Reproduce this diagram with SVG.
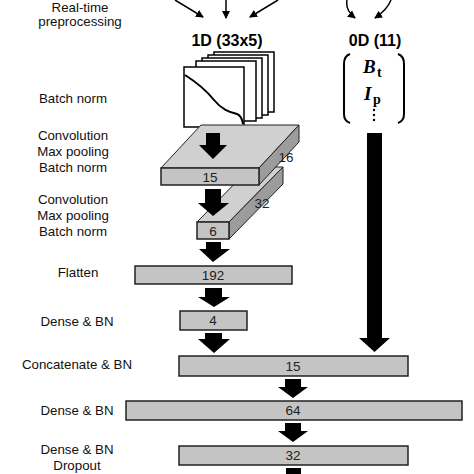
<svg xmlns="http://www.w3.org/2000/svg" width="474" height="474" viewBox="0 0 474 474">
<defs>
<style>
.lbl{font-family:"Liberation Sans",Arial,sans-serif;font-size:13.3px;fill:#111;text-anchor:middle}
.num{font-family:"Liberation Sans",Arial,sans-serif;font-size:13.5px;fill:#222;text-anchor:middle}
.hd{font-family:"Liberation Sans",Arial,sans-serif;font-size:16px;font-weight:bold;fill:#000;text-anchor:middle}
.box{fill:#c4c4c4;stroke:#222;stroke-width:1.5}
.top{fill:#d0d0d0;stroke:#222;stroke-width:1}
.side{fill:#9c9c9c;stroke:#222;stroke-width:1}
.sq{fill:#fff;stroke:#000;stroke-width:1.5}
.thin{fill:none;stroke:#000;stroke-width:1.5}
.blk{fill:#000}
.math{font-family:"Liberation Serif","Times New Roman",serif;font-size:19px;font-weight:bold;font-style:italic;fill:#000}
.sub{font-family:"Liberation Serif","Times New Roman",serif;font-size:14px;font-weight:bold;fill:#000}
</style>
<marker id="ah" markerWidth="8" markerHeight="8" refX="7" refY="4" orient="auto" markerUnits="userSpaceOnUse">
<path d="M0,0 L8,4 L0,8 Z" fill="#000"/>
</marker>
</defs>
<rect width="474" height="474" fill="#fff"/>

<g id="labels">
<text class="lbl" x="80" y="12">Real-time</text>
<text class="lbl" x="80" y="26">preprocessing</text>
<text class="lbl" x="73" y="103">Batch norm</text>
<text class="lbl" x="73" y="140">Convolution</text>
<text class="lbl" x="73" y="156">Max pooling</text>
<text class="lbl" x="73" y="172">Batch norm</text>
<text class="lbl" x="73" y="204">Convolution</text>
<text class="lbl" x="73" y="220">Max pooling</text>
<text class="lbl" x="73" y="236">Batch norm</text>
<text class="lbl" x="78" y="277">Flatten</text>
<text class="lbl" x="77" y="326">Dense &amp; BN</text>
<text class="lbl" x="77" y="369">Concatenate &amp; BN</text>
<text class="lbl" x="77" y="415">Dense &amp; BN</text>
<text class="lbl" x="77" y="454">Dense &amp; BN</text>
<text class="lbl" x="77" y="470">Dropout</text>
</g>

<g id="connectors">
<line class="thin" x1="175" y1="0" x2="203" y2="17" marker-end="url(#ah)"/>
<line class="thin" x1="226" y1="0" x2="226" y2="18" marker-end="url(#ah)"/>
<line class="thin" x1="278" y1="0" x2="250" y2="17" marker-end="url(#ah)"/>
<path class="thin" d="M347,0 Q345,10 355,18" marker-end="url(#ah)"/>
<path class="thin" d="M391,0 Q387,10 375,18" marker-end="url(#ah)"/>
</g>

<g id="header-1d"><text class="hd" x="227" y="46">1D (33x5)</text></g>
<g id="header-0d"><text class="hd" x="375" y="46">0D (11)</text></g>

<g id="input-1d">
<rect class="sq" x="214" y="52" width="60" height="60"/>
<rect class="sq" x="208" y="55" width="60" height="60"/>
<rect class="sq" x="202" y="58" width="60" height="60"/>
<rect class="sq" x="196" y="61" width="60" height="60"/>
<rect class="sq" x="184" y="67" width="60" height="60"/>
<path d="M185,75 C196,82 206,90 214,100 C222,110 230,112 237,114 C242,116 242,120 243,124" fill="none" stroke="#000" stroke-width="2"/>
</g>

<g id="input-0d">
<path d="M350,54 Q344,56 344,64 L344,114 Q344,121 350,123" fill="none" stroke="#000" stroke-width="2"/>
<path d="M398,54 Q404,56 404,64 L404,114 Q404,121 398,123" fill="none" stroke="#000" stroke-width="2"/>
<text class="math" x="363" y="73">B</text><text class="sub" x="377" y="77">t</text>
<text class="math" x="364" y="100">I</text><text class="sub" x="373" y="104">p</text>
<circle cx="374" cy="110" r="1.2" fill="#000"/>
<circle cx="374" cy="115" r="1.2" fill="#000"/>
<circle cx="374" cy="120" r="1.2" fill="#000"/>
</g>

<g id="conv2">
<polygon class="top" points="197,222 251,167 283,167 229,222"/>
<polygon class="side" points="229,222 283,167 283,184 229,239"/>
<rect class="box" x="197" y="222" width="32" height="17"/>
<text class="num" x="213" y="236">6</text>
<text class="num" x="262" y="208">32</text>
</g>

<g id="conv1">
<polygon class="top" points="161,168 201,125 299,125 259,168"/>
<polygon class="side" points="259,168 299,125 299,142 259,185"/>
<rect class="box" x="161" y="168" width="98" height="17"/>
<text class="num" x="210" y="182">15</text>
<text class="num" x="286" y="162">16</text>
</g>

<g id="flatten">
<rect class="box" x="135" y="266" width="157" height="18"/>
<text class="num" x="213" y="280">192</text>
</g>
<g id="dense4">
<rect class="box" x="180" y="311" width="67" height="19"/>
<text class="num" x="213" y="325">4</text>
</g>
<g id="concat">
<rect class="box" x="179" y="356" width="229" height="20"/>
<text class="num" x="293" y="371">15</text>
</g>
<g id="dense64">
<rect class="box" x="126" y="401" width="336" height="19"/>
<text class="num" x="293" y="415">64</text>
</g>
<g id="dense32">
<rect class="box" x="179" y="446" width="229" height="19"/>
<text class="num" x="293" y="460">32</text>
</g>

<g id="block-arrows" class="blk">
<path d="M206,133 H220 V145 H227 L213,159 L199,145 H206 Z"/>
<path d="M205,189 H221 V203 H229 L213,216 L198,203 H205 Z"/>
<path d="M206,242 H221 V249 H230 L213,262 L199,249 H206 Z"/>
<path d="M205,288 H222 V297 H230 L214,307 L198,297 H205 Z"/>
<path d="M205,333 H222 V339 H230 L214,353 L198,339 H205 Z"/>
<path d="M367,133 H382 V338 H390 L374.5,352 L359,338 H367 Z"/>
<path d="M285,379 H301 V387 H308 L293,398 L278,387 H285 Z"/>
<path d="M285,423 H301 V431 H308 L293,442 L278,431 H285 Z"/>
<rect x="286" y="468" width="15" height="8"/>
</g>
</svg>
